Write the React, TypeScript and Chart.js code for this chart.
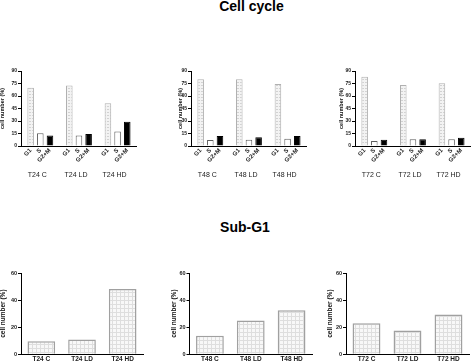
import React, { useEffect, useRef } from 'react';
import { Chart, registerables } from 'chart.js';

Chart.register(...registerables);

const FONT = '"Liberation Sans", Arial, Helvetica, sans-serif';

// ---- data ----
const PHASES = ['G1', 'S', 'G2+M'];
const T24_GROUPS = ['T24 C', 'T24 LD', 'T24 HD'];
const T48_GROUPS = ['T48 C', 'T48 LD', 'T48 HD'];
const T72_GROUPS = ['T72 C', 'T72 LD', 'T72 HD'];

// cell-cycle phase percentages [G1, S, G2+M]
const T24_C = [69.8, 15.3, 12.5];
const T24_LD = [72.6, 12.5, 14.5];
const T24_HD = [51.2, 17.4, 29];
const T48_C = [80, 7.2, 12];
const T48_LD = [80, 7.6, 10.4];
const T48_HD = [74.4, 8.8, 12];
const T72_C = [83.2, 6, 7.6];
const T72_LD = [73.2, 8, 8];
const T72_HD = [75.2, 8, 10];

// sub-G1 percentages [C, LD, HD]
const SUBG1_T24 = [9.6, 11, 48.2];
const SUBG1_T48 = [13.7, 25, 32.6];
const SUBG1_T72 = [23, 17.6, 29.4];

const CC_TICKS = [0, 15, 30, 45, 60, 75, 90];
const SG_TICKS = [0, 20, 40, 60];
const Y_TITLE = 'cell number (%)';

// ---- patterns ----
function g1Pattern(): CanvasPattern | string {
  const c = document.createElement('canvas');
  c.width = 3;
  c.height = 3;
  const ctx = c.getContext('2d');
  if (!ctx) return '#eeeeee';
  ctx.fillStyle = '#f3f3f3';
  ctx.fillRect(0, 0, 3, 3);
  ctx.fillStyle = '#d2d2d2';
  ctx.fillRect(0, 0, 2, 1);
  return ctx.createPattern(c, 'repeat') || '#eeeeee';
}

function gridPattern(): CanvasPattern | string {
  const c = document.createElement('canvas');
  c.width = 4;
  c.height = 4;
  const ctx = c.getContext('2d');
  if (!ctx) return '#f0f0f0';
  ctx.fillStyle = '#f8f8f8';
  ctx.fillRect(0, 0, 4, 4);
  ctx.fillStyle = '#dedede';
  ctx.fillRect(0, 0, 4, 1);
  ctx.fillRect(0, 0, 1, 4);
  return ctx.createPattern(c, 'repeat') || '#f0f0f0';
}

function cellCycleConfig(groups: string[], c: number[], ld: number[], hd: number[], yW: number, padRight: number): any {
  const slotLabels = ['', ...PHASES, '', ...PHASES, '', ...PHASES, ''];
  const values = [null, ...c, null, ...ld, null, ...hd, null];
  const pat = g1Pattern();
  const fills = slotLabels.map((l) => (l === 'G1' ? pat : l === 'S' ? '#ffffff' : l === 'G2+M' ? '#000000' : 'rgba(0,0,0,0)'));
  const borders = slotLabels.map((l) => (l === 'G1' ? '#b0b0b0' : l === 'S' ? '#5e5e5e' : '#000000'));
  return {
    type: 'bar',
    data: {
      labels: slotLabels,
      datasets: [
        {
          data: values,
          backgroundColor: fills,
          borderColor: borders,
          borderWidth: 1,
          barPercentage: 0.68,
          categoryPercentage: 1,
        },
      ],
    },
    options: {
      animation: false,
      responsive: false,
      devicePixelRatio: 1,
      layout: { padding: { top: 4, right: padRight, bottom: 0, left: 0 } },
      plugins: { legend: { display: false }, tooltip: { enabled: false } },
      scales: {
        x: {
          type: 'category',
          offset: false,
          weight: 0,
          grid: { display: false, drawTicks: false, tickLength: 0 },
          border: { display: true, color: '#000', width: 1 },
          ticks: {
            autoSkip: false,
            minRotation: 45,
            maxRotation: 45,
            padding: 1,
            color: '#1a1a1a',
            font: { family: FONT, size: 6, weight: 'bold' },
          },
          afterFit: (s: any) => {
            s.height = 22;
          },
        },
        x2: {
          type: 'category',
          labels: groups,
          offset: true,
          position: 'bottom',
          weight: 1,
          grid: { display: false, drawTicks: false, tickLength: 0 },
          border: { display: false },
          ticks: { padding: 3, labelOffset: -3, color: '#222', font: { family: FONT, size: 7 } },
          afterFit: (s: any) => {
            s.height = 17;
          },
        },
        y: {
          min: 0,
          max: 90,
          grid: { drawOnChartArea: false, tickLength: 3, color: '#000' },
          border: { color: '#000', width: 1 },
          ticks: { padding: 1, color: '#1a1a1a', font: { family: FONT, size: 5, weight: 'bold' } },
          afterBuildTicks: (s: any) => {
            s.ticks = CC_TICKS.map((v) => ({ value: v }));
          },
          title: {
            display: true,
            text: Y_TITLE,
            color: '#111',
            padding: { top: 3, bottom: 1 },
            font: { family: FONT, size: 5.5, weight: 'bold' },
          },
          afterFit: (s: any) => {
            s.width = yW;
          },
        },
      },
    },
  };
}

function subG1Config(groups: string[], values: number[], yW: number, padRight: number): any {
  return {
    type: 'bar',
    data: {
      labels: groups,
      datasets: [
        {
          data: values,
          backgroundColor: gridPattern(),
          borderColor: '#a0a0a0',
          borderWidth: 1.5,
          barPercentage: 0.68,
          categoryPercentage: 1,
        },
      ],
    },
    options: {
      animation: false,
      responsive: false,
      devicePixelRatio: 1,
      layout: { padding: { top: 5, right: padRight, bottom: 0, left: 0 } },
      plugins: { legend: { display: false }, tooltip: { enabled: false } },
      scales: {
        x: {
          type: 'category',
          offset: true,
          grid: { display: false, drawTicks: false, tickLength: 0 },
          border: { display: true, color: '#000', width: 1 },
          ticks: { autoSkip: false, maxRotation: 0, padding: 1, color: '#1a1a1a', font: { family: FONT, size: 6.5, weight: 'bold' } },
          afterFit: (s: any) => {
            s.height = 8.7;
          },
        },
        y: {
          min: 0,
          max: 60,
          grid: { drawOnChartArea: false, tickLength: 3, color: '#000' },
          border: { color: '#000', width: 1 },
          ticks: { padding: 1, color: '#1a1a1a', font: { family: FONT, size: 5.5, weight: 'bold' } },
          afterBuildTicks: (s: any) => {
            s.ticks = SG_TICKS.map((v) => ({ value: v }));
          },
          title: {
            display: true,
            text: Y_TITLE,
            color: '#111',
            padding: { top: 3, bottom: 1 },
            font: { family: FONT, size: 6.5, weight: 'bold' },
          },
          afterFit: (s: any) => {
            s.width = yW;
          },
        },
      },
    },
  };
}

type PanelProps = { left: number; top: number; width: number; height: number; make: () => any };

function Panel({ left, top, width, height, make }: PanelProps) {
  const ref = useRef<HTMLCanvasElement>(null);
  useEffect(() => {
    if (!ref.current) return;
    const chart = new Chart(ref.current, make());
    return () => chart.destroy();
  }, []);
  return (
    <canvas
      ref={ref}
      width={width}
      height={height}
      style={{ position: 'absolute', left, top, width, height, display: 'block' }}
    />
  );
}

export default function App() {
  const titleStyle: React.CSSProperties = {
    position: 'absolute',
    width: 474,
    textAlign: 'center',
    fontFamily: FONT,
    fontWeight: 'bold',
    fontSize: 14,
    lineHeight: '14px',
    color: '#000',
    whiteSpace: 'nowrap',
  };
  return (
    <div
      style={{
        position: 'absolute',
        left: 0,
        top: 0,
        width: 474,
        height: 363,
        overflow: 'hidden',
        background: '#fff',
      }}
    >
      <div style={{ ...titleStyle, left: 14.5, top: -0.8 }}>Cell cycle</div>
      <div style={{ ...titleStyle, left: 8, top: 220 }}>Sub-G1</div>

      <Panel left={-4} top={67} width={147} height={118} make={() => cellCycleConfig(T24_GROUPS, T24_C, T24_LD, T24_HD, 25, 2)} />
      <Panel left={174} top={67} width={139} height={118} make={() => cellCycleConfig(T48_GROUPS, T48_C, T48_LD, T48_HD, 17, 2)} />
      <Panel left={335} top={67} width={142} height={118} make={() => cellCycleConfig(T72_GROUPS, T72_C, T72_LD, T72_HD, 20, 2)} />

      <Panel left={-4} top={268} width={149} height={95} make={() => subG1Config(T24_GROUPS, SUBG1_T24, 25, 2)} />
      <Panel left={167} top={268} width={147} height={95} make={() => subG1Config(T48_GROUPS, SUBG1_T48, 22.5, 2)} />
      <Panel left={323} top={268} width={148} height={95} make={() => subG1Config(T72_GROUPS, SUBG1_T72, 23, 2)} />
    </div>
  );
}
